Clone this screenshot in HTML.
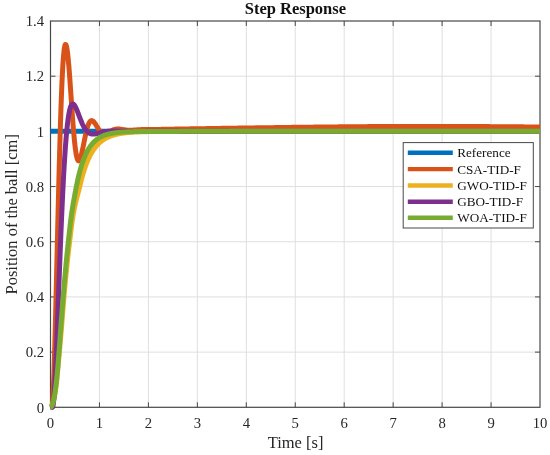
<!DOCTYPE html>
<html><head><meta charset="utf-8"><title>Step Response</title>
<style>html,body{margin:0;padding:0;background:#fff;overflow:hidden}svg{display:block}</style></head>
<body>
<svg width="550" height="455" viewBox="0 0 550 455">
<rect width="550" height="455" fill="#fff"/>
<path d="M99.45,21.0 V407.3 M148.40,21.0 V407.3 M197.35,21.0 V407.3 M246.30,21.0 V407.3 M295.25,21.0 V407.3 M344.20,21.0 V407.3 M393.15,21.0 V407.3 M442.10,21.0 V407.3 M491.05,21.0 V407.3 M50.5,352.11 H540.0 M50.5,296.93 H540.0 M50.5,241.74 H540.0 M50.5,186.56 H540.0 M50.5,131.37 H540.0 M50.5,76.19 H540.0" stroke="#dfdfdf" stroke-width="1" fill="none"/>
<path d="M99.45,407.3 v-5 M99.45,21.0 v5 M148.40,407.3 v-5 M148.40,21.0 v5 M197.35,407.3 v-5 M197.35,21.0 v5 M246.30,407.3 v-5 M246.30,21.0 v5 M295.25,407.3 v-5 M295.25,21.0 v5 M344.20,407.3 v-5 M344.20,21.0 v5 M393.15,407.3 v-5 M393.15,21.0 v5 M442.10,407.3 v-5 M442.10,21.0 v5 M491.05,407.3 v-5 M491.05,21.0 v5 M50.5,352.11 h5 M540.0,352.11 h-5 M50.5,296.93 h5 M540.0,296.93 h-5 M50.5,241.74 h5 M540.0,241.74 h-5 M50.5,186.56 h5 M540.0,186.56 h-5 M50.5,131.37 h5 M540.0,131.37 h-5 M50.5,76.19 h5 M540.0,76.19 h-5" stroke="#484848" stroke-width="1" fill="none"/>
<rect x="50.5" y="21.0" width="489.5" height="386.3" fill="none" stroke="#484848" stroke-width="1.2"/>
<defs><clipPath id="c"><rect x="47.5" y="21.0" width="493.0" height="390.3"/></clipPath></defs>
<g clip-path="url(#c)" fill="none" stroke-linejoin="round" stroke-linecap="butt">
<path d="M50.5,131.37 H540.0" stroke="#0072BD" stroke-width="5"/>
<path d="M50.50,407.30 L50.74,407.29 L50.99,407.29 L51.23,407.28 L51.48,407.28 L51.72,407.27 L51.97,406.82 L52.21,405.39 L52.46,403.04 L52.70,399.82 L52.95,395.78 L53.19,391.00 L53.44,385.52 L53.68,379.39 L53.93,372.67 L54.17,365.41 L54.42,357.67 L54.66,349.48 L54.91,340.90 L55.15,331.97 L55.40,322.73 L55.64,313.24 L55.88,303.52 L56.13,293.62 L56.37,283.58 L56.62,273.43 L56.86,263.21 L57.11,252.95 L57.35,242.69 L57.60,232.45 L57.84,222.27 L58.09,212.17 L58.33,202.19 L58.58,192.35 L58.82,182.68 L59.07,173.19 L59.31,163.93 L59.56,154.90 L59.80,146.13 L60.05,137.64 L60.29,129.46 L60.53,121.59 L60.78,114.07 L61.02,106.89 L61.27,100.08 L61.51,93.65 L61.76,87.61 L62.00,81.97 L62.25,76.73 L62.49,71.90 L62.74,67.48 L62.98,63.47 L63.23,59.86 L63.47,56.66 L63.72,53.85 L63.96,51.44 L64.21,49.39 L64.45,47.72 L64.70,46.40 L64.94,45.41 L65.19,44.76 L65.43,44.43 L65.67,44.39 L65.92,44.65 L66.16,45.18 L66.41,45.98 L66.65,47.04 L66.90,48.34 L67.14,49.87 L67.39,51.63 L67.63,53.60 L67.88,55.78 L68.12,58.15 L68.37,60.70 L68.61,63.41 L68.86,66.28 L69.10,69.30 L69.35,72.44 L69.59,75.69 L69.84,79.04 L70.08,82.47 L70.32,85.96 L70.57,89.50 L70.81,93.07 L71.06,96.66 L71.30,100.24 L71.55,103.81 L71.79,107.35 L72.04,110.84 L72.28,114.28 L72.53,117.65 L72.77,120.94 L73.02,124.13 L73.26,127.23 L73.51,130.22 L73.75,133.08 L74.00,135.83 L74.24,138.45 L74.49,140.93 L74.73,143.27 L74.97,145.47 L75.22,147.52 L75.46,149.42 L75.71,151.18 L75.95,152.78 L76.20,154.24 L76.44,155.54 L76.69,156.70 L76.93,157.71 L77.18,158.57 L77.42,159.29 L77.67,159.87 L77.91,160.32 L78.16,160.63 L78.40,160.82 L78.65,160.88 L78.89,160.82 L79.14,160.65 L79.38,160.37 L79.63,159.98 L79.87,159.50 L80.11,158.93 L80.36,158.27 L80.60,157.53 L80.85,156.72 L81.09,155.84 L81.34,154.90 L81.58,153.91 L81.83,152.87 L82.07,151.78 L82.32,150.66 L82.56,149.50 L82.81,148.32 L83.05,147.12 L83.30,145.91 L83.54,144.68 L83.79,143.45 L84.03,142.23 L84.28,141.01 L84.52,139.79 L84.77,138.60 L85.01,137.42 L85.25,136.26 L85.50,135.13 L85.74,134.02 L85.99,132.95 L86.23,131.92 L86.48,130.92 L86.72,129.96 L86.97,129.04 L87.21,128.17 L87.46,127.34 L87.70,126.56 L87.95,125.82 L88.19,125.14 L88.44,124.50 L88.68,123.91 L88.93,123.37 L89.17,122.89 L89.42,122.45 L89.66,122.06 L89.90,121.72 L90.15,121.42 L90.39,121.18 L90.64,120.98 L90.88,120.83 L91.13,120.72 L91.37,120.65 L91.62,120.62 L91.86,120.63 L92.11,120.68 L92.35,120.77 L92.60,120.89 L92.84,121.04 L93.09,121.22 L93.33,121.43 L93.58,121.67 L93.82,121.93 L94.07,122.21 L94.31,122.52 L94.56,122.84 L94.80,123.18 L95.04,123.53 L95.29,123.89 L95.53,124.27 L95.78,124.65 L96.02,125.04 L96.27,125.44 L96.51,125.84 L96.76,126.23 L97.00,126.63 L97.25,127.03 L97.49,127.43 L97.74,127.81 L97.98,128.20 L98.23,128.57 L98.47,128.94 L98.72,129.30 L98.96,129.65 L99.21,129.98 L99.45,130.31 L99.69,130.62 L99.94,130.92 L100.18,131.20 L100.43,131.47 L100.67,131.72 L100.92,131.96 L101.16,132.18 L101.41,132.38 L101.65,132.57 L101.90,132.74 L102.14,132.90 L102.39,133.04 L102.63,133.16 L102.88,133.27 L103.12,133.36 L103.37,133.44 L103.61,133.50 L103.86,133.54 L104.10,133.57 L104.34,133.59 L104.59,133.59 L104.83,133.58 L105.08,133.56 L105.32,133.53 L105.57,133.48 L105.81,133.43 L106.06,133.36 L106.30,133.28 L106.55,133.20 L106.79,133.11 L107.04,133.01 L107.28,132.90 L107.53,132.79 L107.77,132.68 L108.02,132.55 L108.26,132.43 L108.51,132.30 L108.75,132.17 L109.00,132.03 L109.24,131.89 L109.48,131.76 L109.73,131.62 L109.97,131.48 L110.22,131.35 L110.46,131.21 L110.71,131.08 L110.95,130.94 L111.20,130.81 L111.44,130.69 L111.69,130.56 L111.93,130.44 L112.18,130.32 L112.42,130.21 L112.67,130.10 L112.91,130.00 L113.16,129.90 L113.40,129.81 L113.65,129.72 L113.89,129.63 L114.14,129.55 L114.38,129.48 L114.62,129.41 L114.87,129.35 L115.11,129.29 L115.36,129.24 L115.60,129.20 L115.85,129.15 L116.09,129.12 L116.34,129.09 L116.58,129.06 L116.83,129.04 L117.07,129.03 L117.32,129.01 L117.56,129.01 L117.81,129.01 L118.05,129.01 L118.30,129.01 L118.54,129.02 L118.79,129.03 L119.03,129.05 L119.27,129.07 L119.52,129.09 L119.76,129.12 L120.01,129.14 L120.25,129.17 L120.50,129.20 L120.74,129.24 L120.99,129.27 L121.23,129.31 L121.48,129.35 L121.72,129.38 L121.97,129.42 L122.21,129.46 L122.46,129.50 L122.70,129.54 L122.95,129.58 L123.19,129.62 L123.44,129.66 L123.68,129.70 L123.92,129.74 L124.17,129.78 L124.41,129.81 L124.66,129.85 L124.90,129.88 L125.15,129.92 L125.39,129.95 L125.64,129.98 L125.88,130.01 L126.13,130.03 L126.37,130.06 L126.62,130.08 L126.86,130.11 L127.11,130.13 L127.35,130.15 L127.60,130.16 L127.84,130.18 L128.09,130.19 L128.33,130.20 L128.58,130.21 L128.82,130.22 L129.06,130.23 L129.31,130.23 L129.55,130.24 L129.80,130.24 L130.04,130.24 L130.29,130.24 L130.53,130.23 L130.78,130.23 L131.02,130.22 L131.27,130.21 L131.51,130.21 L131.76,130.20 L132.00,130.19 L132.25,130.17 L132.49,130.16 L132.74,130.15 L132.98,130.13 L133.23,130.12 L133.47,130.10 L133.72,130.09 L133.96,130.07 L134.20,130.05 L134.45,130.03 L134.69,130.02 L134.94,130.00 L135.18,129.98 L135.43,129.96 L135.67,129.94 L135.92,129.92 L136.16,129.91 L136.41,129.89 L136.65,129.87 L136.90,129.85 L137.14,129.83 L137.39,129.82 L137.63,129.80 L137.88,129.78 L138.12,129.77 L138.37,129.75 L138.61,129.73 L138.85,129.72 L139.10,129.70 L139.34,129.69 L139.59,129.68 L139.83,129.66 L140.08,129.65 L140.32,129.64 L140.57,129.63 L140.81,129.62 L141.06,129.61 L141.30,129.60 L141.55,129.59 L141.79,129.58 L142.04,129.58 L142.28,129.57 L142.53,129.56 L142.77,129.56 L143.02,129.55 L143.26,129.55 L143.50,129.54 L143.75,129.54 L143.99,129.53 L144.24,129.53 L144.48,129.53 L144.73,129.53 L144.97,129.52 L145.22,129.52 L145.46,129.52 L145.71,129.52 L145.95,129.52 L146.20,129.52 L146.44,129.52 L146.69,129.52 L146.93,129.52 L147.18,129.52 L147.42,129.52 L147.67,129.52 L147.91,129.52 L148.16,129.52 L148.40,129.52 L148.64,129.52 L148.89,129.52 L149.13,129.52 L149.38,129.53 L149.62,129.53 L149.87,129.53 L150.11,129.53 L150.36,129.53 L150.60,129.53 L150.85,129.53 L151.09,129.53 L151.34,129.53 L151.58,129.53 L151.83,129.53 L152.07,129.52 L152.32,129.52 L152.56,129.52 L152.81,129.52 L153.05,129.52 L153.30,129.52 L153.54,129.52 L153.78,129.51 L154.03,129.51 L154.27,129.51 L154.52,129.51 L154.76,129.50 L155.01,129.50 L155.25,129.50 L155.50,129.49 L155.74,129.49 L155.99,129.49 L156.23,129.48 L156.48,129.48 L156.72,129.48 L156.97,129.47 L157.21,129.47 L157.46,129.46 L157.70,129.46 L157.95,129.45 L158.19,129.45 L158.43,129.44 L158.68,129.44 L158.92,129.43 L159.17,129.43 L159.41,129.42 L159.66,129.41 L159.90,129.41 L160.15,129.40 L160.39,129.40 L160.64,129.39 L160.88,129.39 L161.13,129.38 L161.37,129.37 L161.62,129.37 L161.86,129.36 L162.11,129.36 L162.35,129.35 L162.60,129.35 L162.84,129.34 L163.09,129.33 L163.33,129.33 L163.57,129.32 L163.82,129.32 L164.06,129.31 L164.31,129.31 L164.55,129.30 L164.80,129.30 L165.04,129.29 L165.29,129.28 L165.53,129.28 L165.78,129.27 L166.02,129.27 L166.27,129.26 L166.51,129.26 L166.76,129.25 L167.00,129.25 L167.25,129.24 L167.49,129.24 L167.74,129.24 L167.98,129.23 L168.22,129.23 L168.47,129.22 L168.71,129.22 L168.96,129.21 L169.20,129.21 L169.45,129.20 L169.69,129.20 L169.94,129.20 L170.18,129.19 L170.43,129.19 L170.67,129.18 L170.92,129.18 L171.16,129.18 L171.41,129.17 L171.65,129.17 L171.90,129.16 L172.14,129.16 L172.39,129.16 L172.63,129.15 L172.88,129.15 L173.12,129.15 L173.36,129.14 L173.61,129.14 L173.85,129.13 L174.10,129.13 L174.34,129.13 L174.59,129.12 L174.83,129.12 L175.08,129.12 L175.32,129.11 L175.57,129.11 L175.81,129.11 L176.06,129.10 L176.30,129.10 L176.55,129.09 L176.79,129.09 L177.04,129.09 L177.28,129.08 L177.53,129.08 L177.77,129.08 L178.01,129.07 L178.26,129.07 L178.50,129.06 L178.75,129.06 L178.99,129.06 L179.24,129.05 L179.48,129.05 L179.73,129.04 L179.97,129.04 L180.22,129.04 L180.46,129.03 L180.71,129.03 L180.95,129.02 L181.20,129.02 L181.44,129.02 L181.69,129.01 L181.93,129.01 L182.18,129.00 L182.42,129.00 L182.67,129.00 L182.91,128.99 L183.15,128.99 L183.40,128.98 L183.64,128.98 L183.89,128.98 L184.13,128.97 L184.38,128.97 L184.62,128.96 L184.87,128.96 L185.11,128.95 L185.36,128.95 L185.60,128.95 L185.85,128.94 L186.09,128.94 L186.34,128.93 L186.58,128.93 L186.83,128.92 L187.07,128.92 L187.32,128.92 L187.56,128.91 L187.80,128.91 L188.05,128.90 L188.29,128.90 L188.54,128.89 L188.78,128.89 L189.03,128.89 L189.27,128.88 L189.52,128.88 L189.76,128.87 L190.01,128.87 L190.25,128.87 L190.50,128.86 L190.74,128.86 L190.99,128.85 L191.23,128.85 L191.48,128.84 L191.72,128.84 L191.97,128.84 L192.21,128.83 L192.45,128.83 L192.70,128.82 L192.94,128.82 L193.19,128.82 L193.43,128.81 L193.68,128.81 L193.92,128.80 L194.17,128.80 L194.41,128.80 L194.66,128.79 L194.90,128.79 L195.15,128.78 L195.39,128.78 L195.64,128.78 L195.88,128.77 L196.13,128.77 L196.37,128.76 L196.62,128.76 L196.86,128.76 L197.11,128.75 L197.35,128.75 L199.80,128.71 L202.25,128.67 L204.69,128.63 L207.14,128.60 L209.59,128.56 L212.03,128.52 L214.48,128.48 L216.93,128.44 L219.38,128.40 L221.82,128.37 L224.27,128.33 L226.72,128.29 L229.17,128.26 L231.62,128.22 L234.06,128.18 L236.51,128.15 L238.96,128.11 L241.41,128.08 L243.85,128.04 L246.30,128.01 L248.75,127.97 L251.19,127.94 L253.64,127.90 L256.09,127.87 L258.54,127.83 L260.99,127.80 L263.43,127.76 L265.88,127.73 L268.33,127.69 L270.77,127.66 L273.22,127.63 L275.67,127.59 L278.12,127.56 L280.56,127.53 L283.01,127.50 L285.46,127.46 L287.91,127.43 L290.36,127.40 L292.80,127.37 L295.25,127.34 L297.70,127.31 L300.14,127.28 L302.59,127.26 L305.04,127.23 L307.49,127.20 L309.94,127.17 L312.38,127.14 L314.83,127.11 L317.28,127.09 L319.73,127.06 L322.17,127.03 L324.62,127.01 L327.07,126.98 L329.51,126.95 L331.96,126.93 L334.41,126.91 L336.86,126.88 L339.31,126.86 L341.75,126.84 L344.20,126.82 L346.65,126.80 L349.09,126.78 L351.54,126.76 L353.99,126.74 L356.44,126.72 L358.89,126.70 L361.33,126.68 L363.78,126.66 L366.23,126.64 L368.68,126.62 L371.12,126.60 L373.57,126.58 L376.02,126.57 L378.47,126.55 L380.91,126.54 L383.36,126.53 L385.81,126.51 L388.25,126.50 L390.70,126.49 L393.15,126.49 L395.60,126.48 L398.05,126.47 L400.49,126.47 L402.94,126.46 L405.39,126.46 L407.83,126.45 L410.28,126.44 L412.73,126.44 L415.18,126.43 L417.62,126.43 L420.07,126.43 L422.52,126.42 L424.97,126.42 L427.42,126.41 L429.86,126.41 L432.31,126.41 L434.76,126.41 L437.21,126.41 L439.65,126.40 L442.10,126.40 L444.55,126.41 L447.00,126.41 L449.44,126.41 L451.89,126.42 L454.34,126.43 L456.79,126.43 L459.23,126.44 L461.68,126.46 L464.13,126.47 L466.57,126.48 L469.02,126.49 L471.47,126.51 L473.92,126.52 L476.36,126.54 L478.81,126.55 L481.26,126.57 L483.71,126.58 L486.16,126.60 L488.60,126.61 L491.05,126.63 L493.50,126.64 L495.95,126.65 L498.39,126.67 L500.84,126.69 L503.29,126.70 L505.74,126.72 L508.18,126.74 L510.63,126.76 L513.08,126.78 L515.52,126.80 L517.97,126.81 L520.42,126.84 L522.87,126.86 L525.31,126.88 L527.76,126.90 L530.21,126.92 L532.66,126.94 L535.11,126.97 L537.55,126.99 L540.00,127.01" stroke="#D95319" stroke-width="5"/>
<path d="M50.50,407.30 L50.74,407.24 L50.99,407.07 L51.23,406.81 L51.48,406.47 L51.72,406.07 L51.97,405.62 L52.21,405.15 L52.46,404.65 L52.70,404.07 L52.95,403.32 L53.19,402.43 L53.44,401.42 L53.68,400.32 L53.93,399.16 L54.17,397.94 L54.42,396.70 L54.66,395.40 L54.91,393.98 L55.15,392.45 L55.40,390.82 L55.64,389.10 L55.88,387.30 L56.13,385.41 L56.37,383.46 L56.62,381.39 L56.86,379.17 L57.11,376.81 L57.35,374.33 L57.60,371.75 L57.84,369.10 L58.09,366.39 L58.33,363.64 L58.58,360.87 L58.82,358.10 L59.07,355.36 L59.31,352.65 L59.56,349.98 L59.80,347.29 L60.05,344.58 L60.29,341.86 L60.53,339.10 L60.78,336.31 L61.02,333.48 L61.27,330.62 L61.51,327.69 L61.76,324.67 L62.00,321.58 L62.25,318.44 L62.49,315.28 L62.74,312.11 L62.98,308.95 L63.23,305.84 L63.47,302.78 L63.72,299.80 L63.96,296.93 L64.21,294.13 L64.45,291.38 L64.70,288.67 L64.94,285.99 L65.19,283.36 L65.43,280.76 L65.67,278.21 L65.92,275.69 L66.16,273.22 L66.41,270.78 L66.65,268.38 L66.90,266.01 L67.14,263.66 L67.39,261.34 L67.63,259.05 L67.88,256.79 L68.12,254.56 L68.37,252.35 L68.61,250.18 L68.86,248.04 L69.10,245.93 L69.35,243.86 L69.59,241.82 L69.84,239.81 L70.08,237.82 L70.32,235.82 L70.57,233.83 L70.81,231.85 L71.06,229.88 L71.30,227.94 L71.55,226.03 L71.79,224.16 L72.04,222.33 L72.28,220.56 L72.53,218.85 L72.77,217.21 L73.02,215.64 L73.26,214.16 L73.51,212.77 L73.75,211.45 L74.00,210.17 L74.24,208.94 L74.49,207.74 L74.73,206.58 L74.97,205.45 L75.22,204.36 L75.46,203.29 L75.71,202.25 L75.95,201.23 L76.20,200.23 L76.44,199.25 L76.69,198.28 L76.93,197.33 L77.18,196.39 L77.42,195.46 L77.67,194.53 L77.91,193.60 L78.16,192.67 L78.40,191.74 L78.65,190.81 L78.89,189.86 L79.14,188.91 L79.38,187.94 L79.63,186.96 L79.87,185.96 L80.11,184.95 L80.36,183.94 L80.60,182.93 L80.85,181.92 L81.09,180.93 L81.34,179.95 L81.58,178.99 L81.83,178.05 L82.07,177.14 L82.32,176.25 L82.56,175.39 L82.81,174.54 L83.05,173.70 L83.30,172.89 L83.54,172.08 L83.79,171.30 L84.03,170.52 L84.28,169.77 L84.52,169.03 L84.77,168.30 L85.01,167.59 L85.25,166.89 L85.50,166.20 L85.74,165.53 L85.99,164.87 L86.23,164.22 L86.48,163.59 L86.72,162.96 L86.97,162.36 L87.21,161.76 L87.46,161.17 L87.70,160.60 L87.95,160.03 L88.19,159.48 L88.44,158.94 L88.68,158.40 L88.93,157.88 L89.17,157.37 L89.42,156.87 L89.66,156.38 L89.90,155.89 L90.15,155.42 L90.39,154.96 L90.64,154.50 L90.88,154.05 L91.13,153.61 L91.37,153.18 L91.62,152.76 L91.86,152.35 L92.11,151.95 L92.35,151.55 L92.60,151.16 L92.84,150.78 L93.09,150.40 L93.33,150.03 L93.58,149.67 L93.82,149.32 L94.07,148.97 L94.31,148.63 L94.56,148.30 L94.80,147.97 L95.04,147.65 L95.29,147.34 L95.53,147.03 L95.78,146.73 L96.02,146.43 L96.27,146.14 L96.51,145.85 L96.76,145.57 L97.00,145.30 L97.25,145.03 L97.49,144.77 L97.74,144.51 L97.98,144.26 L98.23,144.01 L98.47,143.76 L98.72,143.52 L98.96,143.29 L99.21,143.06 L99.45,142.83 L99.69,142.61 L99.94,142.40 L100.18,142.18 L100.43,141.97 L100.67,141.77 L100.92,141.57 L101.16,141.37 L101.41,141.18 L101.65,140.99 L101.90,140.80 L102.14,140.62 L102.39,140.44 L102.63,140.27 L102.88,140.09 L103.12,139.93 L103.37,139.76 L103.61,139.60 L103.86,139.44 L104.10,139.28 L104.34,139.13 L104.59,138.98 L104.83,138.84 L105.08,138.69 L105.32,138.55 L105.57,138.41 L105.81,138.27 L106.06,138.14 L106.30,138.01 L106.55,137.88 L106.79,137.76 L107.04,137.63 L107.28,137.51 L107.53,137.39 L107.77,137.28 L108.02,137.16 L108.26,137.05 L108.51,136.94 L108.75,136.83 L109.00,136.73 L109.24,136.63 L109.48,136.52 L109.73,136.42 L109.97,136.33 L110.22,136.23 L110.46,136.14 L110.71,136.05 L110.95,135.95 L111.20,135.87 L111.44,135.78 L111.69,135.69 L111.93,135.61 L112.18,135.53 L112.42,135.45 L112.67,135.37 L112.91,135.29 L113.16,135.22 L113.40,135.14 L113.65,135.07 L113.89,135.00 L114.14,134.93 L114.38,134.86 L114.62,134.79 L114.87,134.73 L115.11,134.66 L115.36,134.60 L115.60,134.54 L115.85,134.47 L116.09,134.41 L116.34,134.36 L116.58,134.30 L116.83,134.24 L117.07,134.19 L117.32,134.13 L117.56,134.08 L117.81,134.03 L118.05,133.98 L118.30,133.92 L118.54,133.88 L118.79,133.83 L119.03,133.78 L119.27,133.73 L119.52,133.69 L119.76,133.64 L120.01,133.60 L120.25,133.56 L120.50,133.51 L120.74,133.47 L120.99,133.43 L121.23,133.39 L121.48,133.35 L121.72,133.32 L121.97,133.28 L122.21,133.24 L122.46,133.20 L122.70,133.17 L122.95,133.13 L123.19,133.10 L123.44,133.07 L123.68,133.03 L123.92,133.00 L124.17,132.97 L124.41,132.94 L124.66,132.91 L124.90,132.88 L125.15,132.85 L125.39,132.82 L125.64,132.79 L125.88,132.77 L126.13,132.74 L126.37,132.71 L126.62,132.69 L126.86,132.66 L127.11,132.64 L127.35,132.61 L127.60,132.59 L127.84,132.57 L128.09,132.54 L128.33,132.52 L128.58,132.50 L128.82,132.48 L129.06,132.45 L129.31,132.43 L129.55,132.41 L129.80,132.39 L130.04,132.37 L130.29,132.35 L130.53,132.33 L130.78,132.32 L131.02,132.30 L131.27,132.28 L131.51,132.26 L131.76,132.25 L132.00,132.23 L132.25,132.21 L132.49,132.20 L132.74,132.18 L132.98,132.16 L133.23,132.15 L133.47,132.13 L133.72,132.12 L133.96,132.10 L134.20,132.09 L134.45,132.08 L134.69,132.06 L134.94,132.05 L135.18,132.04 L135.43,132.02 L135.67,132.01 L135.92,132.00 L136.16,131.99 L136.41,131.97 L136.65,131.96 L136.90,131.95 L137.14,131.94 L137.39,131.93 L137.63,131.92 L137.88,131.91 L138.12,131.90 L138.37,131.89 L138.61,131.88 L138.85,131.87 L139.10,131.86 L139.34,131.85 L139.59,131.84 L139.83,131.83 L140.08,131.82 L140.32,131.81 L140.57,131.80 L140.81,131.80 L141.06,131.79 L141.30,131.78 L141.55,131.77 L141.79,131.76 L142.04,131.76 L142.28,131.75 L142.53,131.74 L142.77,131.73 L143.02,131.73 L143.26,131.72 L143.50,131.71 L143.75,131.71 L143.99,131.70 L144.24,131.69 L144.48,131.69 L144.73,131.68 L144.97,131.68 L145.22,131.67 L145.46,131.66 L145.71,131.66 L145.95,131.65 L146.20,131.65 L146.44,131.64 L146.69,131.64 L146.93,131.63 L147.18,131.63 L147.42,131.62 L147.67,131.62 L147.91,131.61 L148.16,131.61 L148.40,131.60 L148.64,131.60 L148.89,131.59 L149.13,131.59 L149.38,131.59 L149.62,131.58 L149.87,131.58 L150.11,131.57 L150.36,131.57 L150.60,131.57 L150.85,131.56 L151.09,131.56 L151.34,131.56 L151.58,131.55 L151.83,131.55 L152.07,131.54 L152.32,131.54 L152.56,131.54 L152.81,131.53 L153.05,131.53 L153.30,131.53 L153.54,131.53 L153.78,131.52 L154.03,131.52 L154.27,131.52 L154.52,131.51 L154.76,131.51 L155.01,131.51 L155.25,131.51 L155.50,131.50 L155.74,131.50 L155.99,131.50 L156.23,131.50 L156.48,131.49 L156.72,131.49 L156.97,131.49 L157.21,131.49 L157.46,131.48 L157.70,131.48 L157.95,131.48 L158.19,131.48 L158.43,131.48 L158.68,131.47 L158.92,131.47 L159.17,131.47 L159.41,131.47 L159.66,131.47 L159.90,131.46 L160.15,131.46 L160.39,131.46 L160.64,131.46 L160.88,131.46 L161.13,131.46 L161.37,131.45 L161.62,131.45 L161.86,131.45 L162.11,131.45 L162.35,131.45 L162.60,131.45 L162.84,131.44 L163.09,131.44 L163.33,131.44 L163.57,131.44 L163.82,131.44 L164.06,131.44 L164.31,131.44 L164.55,131.44 L164.80,131.43 L165.04,131.43 L165.29,131.43 L165.53,131.43 L165.78,131.43 L166.02,131.43 L166.27,131.43 L166.51,131.43 L166.76,131.43 L167.00,131.42 L167.25,131.42 L167.49,131.42 L167.74,131.42 L167.98,131.42 L168.22,131.42 L168.47,131.42 L168.71,131.42 L168.96,131.42 L169.20,131.42 L169.45,131.41 L169.69,131.41 L169.94,131.41 L170.18,131.41 L170.43,131.41 L170.67,131.41 L170.92,131.41 L171.16,131.41 L171.41,131.41 L171.65,131.41 L171.90,131.41 L172.14,131.41 L172.39,131.41 L172.63,131.41 L172.88,131.40 L173.12,131.40 L173.36,131.40 L173.61,131.40 L173.85,131.40 L174.10,131.40 L174.34,131.40 L174.59,131.40 L174.83,131.40 L175.08,131.40 L175.32,131.40 L175.57,131.40 L175.81,131.40 L176.06,131.40 L176.30,131.40 L176.55,131.40 L176.79,131.40 L177.04,131.40 L177.28,131.39 L177.53,131.39 L177.77,131.39 L178.01,131.39 L178.26,131.39 L178.50,131.39 L178.75,131.39 L178.99,131.39 L179.24,131.39 L179.48,131.39 L179.73,131.39 L179.97,131.39 L180.22,131.39 L180.46,131.39 L180.71,131.39 L180.95,131.39 L181.20,131.39 L181.44,131.39 L181.69,131.39 L181.93,131.39 L182.18,131.39 L182.42,131.39 L182.67,131.39 L182.91,131.39 L183.15,131.39 L183.40,131.39 L183.64,131.39 L183.89,131.39 L184.13,131.38 L184.38,131.38 L184.62,131.38 L184.87,131.38 L185.11,131.38 L185.36,131.38 L185.60,131.38 L185.85,131.38 L186.09,131.38 L186.34,131.38 L186.58,131.38 L186.83,131.38 L187.07,131.38 L187.32,131.38 L187.56,131.38 L187.80,131.38 L188.05,131.38 L188.29,131.38 L188.54,131.38 L188.78,131.38 L189.03,131.38 L189.27,131.38 L189.52,131.38 L189.76,131.38 L190.01,131.38 L190.25,131.38 L190.50,131.38 L190.74,131.38 L190.99,131.38 L191.23,131.38 L191.48,131.38 L191.72,131.38 L191.97,131.38 L192.21,131.38 L192.45,131.38 L192.70,131.38 L192.94,131.38 L193.19,131.38 L193.43,131.38 L193.68,131.38 L193.92,131.38 L194.17,131.38 L194.41,131.38 L194.66,131.38 L194.90,131.38 L195.15,131.38 L195.39,131.38 L195.64,131.38 L195.88,131.38 L196.13,131.38 L196.37,131.38 L196.62,131.38 L196.86,131.38 L197.11,131.38 L197.35,131.38 L199.80,131.38 L202.25,131.38 L204.69,131.38 L207.14,131.38 L209.59,131.38 L212.03,131.38 L214.48,131.38 L216.93,131.38 L219.38,131.38 L221.82,131.38 L224.27,131.38 L226.72,131.38 L229.17,131.38 L231.62,131.37 L234.06,131.37 L236.51,131.37 L238.96,131.37 L241.41,131.37 L243.85,131.37 L246.30,131.37 L248.75,131.37 L251.19,131.37 L253.64,131.37 L256.09,131.37 L258.54,131.37 L260.99,131.37 L263.43,131.37 L265.88,131.37 L268.33,131.37 L270.77,131.37 L273.22,131.37 L275.67,131.37 L278.12,131.37 L280.56,131.37 L283.01,131.37 L285.46,131.37 L287.91,131.37 L290.36,131.37 L292.80,131.37 L295.25,131.37 L297.70,131.37 L300.14,131.37 L302.59,131.37 L305.04,131.37 L307.49,131.37 L309.94,131.37 L312.38,131.37 L314.83,131.37 L317.28,131.37 L319.73,131.37 L322.17,131.37 L324.62,131.37 L327.07,131.37 L329.51,131.37 L331.96,131.37 L334.41,131.37 L336.86,131.37 L339.31,131.37 L341.75,131.37 L344.20,131.37 L346.65,131.37 L349.09,131.37 L351.54,131.37 L353.99,131.37 L356.44,131.37 L358.89,131.37 L361.33,131.37 L363.78,131.37 L366.23,131.37 L368.68,131.37 L371.12,131.37 L373.57,131.37 L376.02,131.37 L378.47,131.37 L380.91,131.37 L383.36,131.37 L385.81,131.37 L388.25,131.37 L390.70,131.37 L393.15,131.37 L395.60,131.37 L398.05,131.37 L400.49,131.37 L402.94,131.37 L405.39,131.37 L407.83,131.37 L410.28,131.37 L412.73,131.37 L415.18,131.37 L417.62,131.37 L420.07,131.37 L422.52,131.37 L424.97,131.37 L427.42,131.37 L429.86,131.37 L432.31,131.37 L434.76,131.37 L437.21,131.37 L439.65,131.37 L442.10,131.37 L444.55,131.37 L447.00,131.37 L449.44,131.37 L451.89,131.37 L454.34,131.37 L456.79,131.37 L459.23,131.37 L461.68,131.37 L464.13,131.37 L466.57,131.37 L469.02,131.37 L471.47,131.37 L473.92,131.37 L476.36,131.37 L478.81,131.37 L481.26,131.37 L483.71,131.37 L486.16,131.37 L488.60,131.37 L491.05,131.37 L493.50,131.37 L495.95,131.37 L498.39,131.37 L500.84,131.37 L503.29,131.37 L505.74,131.37 L508.18,131.37 L510.63,131.37 L513.08,131.37 L515.52,131.37 L517.97,131.37 L520.42,131.37 L522.87,131.37 L525.31,131.37 L527.76,131.37 L530.21,131.37 L532.66,131.37 L535.11,131.37 L537.55,131.37 L540.00,131.37" stroke="#EDB120" stroke-width="5"/>
<path d="M50.50,407.30 L50.74,407.30 L50.99,407.30 L51.23,407.30 L51.48,407.30 L51.72,407.30 L51.97,407.30 L52.21,407.30 L52.46,407.30 L52.70,407.00 L52.95,406.13 L53.19,404.71 L53.44,402.78 L53.68,400.38 L53.93,397.52 L54.17,394.25 L54.42,390.59 L54.66,386.58 L54.91,382.23 L55.15,377.58 L55.40,372.65 L55.64,367.48 L55.88,362.07 L56.13,356.47 L56.37,350.68 L56.62,344.73 L56.86,338.65 L57.11,332.46 L57.35,326.17 L57.60,319.80 L57.84,313.37 L58.09,306.90 L58.33,300.40 L58.58,293.89 L58.82,287.38 L59.07,280.90 L59.31,274.44 L59.56,268.02 L59.80,261.66 L60.05,255.37 L60.29,249.15 L60.53,243.01 L60.78,236.96 L61.02,231.02 L61.27,225.19 L61.51,219.46 L61.76,213.86 L62.00,208.39 L62.25,203.05 L62.49,197.84 L62.74,192.77 L62.98,187.85 L63.23,183.07 L63.47,178.44 L63.72,173.95 L63.96,169.62 L64.21,165.45 L64.45,161.42 L64.70,157.55 L64.94,153.83 L65.19,150.27 L65.43,146.86 L65.67,143.60 L65.92,140.49 L66.16,137.52 L66.41,134.71 L66.65,132.04 L66.90,129.52 L67.14,127.13 L67.39,124.89 L67.63,122.77 L67.88,120.80 L68.12,118.95 L68.37,117.23 L68.61,115.63 L68.86,114.15 L69.10,112.79 L69.35,111.55 L69.59,110.41 L69.84,109.38 L70.08,108.45 L70.32,107.62 L70.57,106.89 L70.81,106.25 L71.06,105.70 L71.30,105.24 L71.55,104.85 L71.79,104.55 L72.04,104.31 L72.28,104.15 L72.53,104.06 L72.77,104.03 L73.02,104.06 L73.26,104.14 L73.51,104.28 L73.75,104.47 L74.00,104.71 L74.24,104.99 L74.49,105.32 L74.73,105.68 L74.97,106.08 L75.22,106.51 L75.46,106.97 L75.71,107.46 L75.95,107.97 L76.20,108.51 L76.44,109.06 L76.69,109.64 L76.93,110.23 L77.18,110.83 L77.42,111.44 L77.67,112.07 L77.91,112.70 L78.16,113.33 L78.40,113.98 L78.65,114.62 L78.89,115.26 L79.14,115.91 L79.38,116.55 L79.63,117.19 L79.87,117.83 L80.11,118.46 L80.36,119.08 L80.60,119.70 L80.85,120.31 L81.09,120.91 L81.34,121.50 L81.58,122.07 L81.83,122.64 L82.07,123.20 L82.32,123.74 L82.56,124.27 L82.81,124.78 L83.05,125.29 L83.30,125.77 L83.54,126.25 L83.79,126.71 L84.03,127.15 L84.28,127.58 L84.52,127.99 L84.77,128.39 L85.01,128.78 L85.25,129.15 L85.50,129.50 L85.74,129.84 L85.99,130.16 L86.23,130.47 L86.48,130.76 L86.72,131.04 L86.97,131.30 L87.21,131.55 L87.46,131.79 L87.70,132.01 L87.95,132.22 L88.19,132.42 L88.44,132.60 L88.68,132.77 L88.93,132.93 L89.17,133.08 L89.42,133.21 L89.66,133.34 L89.90,133.45 L90.15,133.55 L90.39,133.64 L90.64,133.72 L90.88,133.80 L91.13,133.86 L91.37,133.92 L91.62,133.96 L91.86,134.00 L92.11,134.03 L92.35,134.05 L92.60,134.07 L92.84,134.08 L93.09,134.08 L93.33,134.08 L93.58,134.07 L93.82,134.06 L94.07,134.04 L94.31,134.01 L94.56,133.99 L94.80,133.95 L95.04,133.92 L95.29,133.88 L95.53,133.84 L95.78,133.79 L96.02,133.74 L96.27,133.69 L96.51,133.64 L96.76,133.58 L97.00,133.53 L97.25,133.47 L97.49,133.41 L97.74,133.35 L97.98,133.28 L98.23,133.22 L98.47,133.16 L98.72,133.10 L98.96,133.03 L99.21,132.97 L99.45,132.90 L99.69,132.84 L99.94,132.78 L100.18,132.71 L100.43,132.65 L100.67,132.59 L100.92,132.53 L101.16,132.47 L101.41,132.41 L101.65,132.35 L101.90,132.29 L102.14,132.24 L102.39,132.18 L102.63,132.13 L102.88,132.08 L103.12,132.02 L103.37,131.97 L103.61,131.93 L103.86,131.88 L104.10,131.83 L104.34,131.79 L104.59,131.75 L104.83,131.71 L105.08,131.67 L105.32,131.63 L105.57,131.59 L105.81,131.56 L106.06,131.52 L106.30,131.49 L106.55,131.46 L106.79,131.43 L107.04,131.40 L107.28,131.38 L107.53,131.35 L107.77,131.33 L108.02,131.31 L108.26,131.29 L108.51,131.27 L108.75,131.25 L109.00,131.23 L109.24,131.22 L109.48,131.20 L109.73,131.19 L109.97,131.18 L110.22,131.17 L110.46,131.16 L110.71,131.15 L110.95,131.14 L111.20,131.13 L111.44,131.12 L111.69,131.12 L111.93,131.11 L112.18,131.11 L112.42,131.11 L112.67,131.11 L112.91,131.10 L113.16,131.10 L113.40,131.10 L113.65,131.10 L113.89,131.10 L114.14,131.11 L114.38,131.11 L114.62,131.11 L114.87,131.11 L115.11,131.12 L115.36,131.12 L115.60,131.12 L115.85,131.13 L116.09,131.13 L116.34,131.14 L116.58,131.14 L116.83,131.15 L117.07,131.15 L117.32,131.16 L117.56,131.16 L117.81,131.17 L118.05,131.18 L118.30,131.18 L118.54,131.19 L118.79,131.19 L119.03,131.20 L119.27,131.21 L119.52,131.21 L119.76,131.22 L120.01,131.23 L120.25,131.23 L120.50,131.24 L120.74,131.24 L120.99,131.25 L121.23,131.26 L121.48,131.26 L121.72,131.27 L121.97,131.27 L122.21,131.28 L122.46,131.29 L122.70,131.29 L122.95,131.30 L123.19,131.30 L123.44,131.31 L123.68,131.31 L123.92,131.32 L124.17,131.32 L124.41,131.33 L124.66,131.33 L124.90,131.33 L125.15,131.34 L125.39,131.34 L125.64,131.35 L125.88,131.35 L126.13,131.35 L126.37,131.36 L126.62,131.36 L126.86,131.36 L127.11,131.37 L127.35,131.37 L127.60,131.37 L127.84,131.37 L128.09,131.38 L128.33,131.38 L128.58,131.38 L128.82,131.38 L129.06,131.38 L129.31,131.39 L129.55,131.39 L129.80,131.39 L130.04,131.39 L130.29,131.39 L130.53,131.39 L130.78,131.39 L131.02,131.39 L131.27,131.39 L131.51,131.40 L131.76,131.40 L132.00,131.40 L132.25,131.40 L132.49,131.40 L132.74,131.40 L132.98,131.40 L133.23,131.40 L133.47,131.40 L133.72,131.40 L133.96,131.40 L134.20,131.40 L134.45,131.40 L134.69,131.40 L134.94,131.40 L135.18,131.40 L135.43,131.40 L135.67,131.40 L135.92,131.40 L136.16,131.40 L136.41,131.40 L136.65,131.39 L136.90,131.39 L137.14,131.39 L137.39,131.39 L137.63,131.39 L137.88,131.39 L138.12,131.39 L138.37,131.39 L138.61,131.39 L138.85,131.39 L139.10,131.39 L139.34,131.39 L139.59,131.39 L139.83,131.39 L140.08,131.39 L140.32,131.39 L140.57,131.39 L140.81,131.38 L141.06,131.38 L141.30,131.38 L141.55,131.38 L141.79,131.38 L142.04,131.38 L142.28,131.38 L142.53,131.38 L142.77,131.38 L143.02,131.38 L143.26,131.38 L143.50,131.38 L143.75,131.38 L143.99,131.38 L144.24,131.38 L144.48,131.38 L144.73,131.38 L144.97,131.38 L145.22,131.38 L145.46,131.37 L145.71,131.37 L145.95,131.37 L146.20,131.37 L146.44,131.37 L146.69,131.37 L146.93,131.37 L147.18,131.37 L147.42,131.37 L147.67,131.37 L147.91,131.37 L148.16,131.37 L148.40,131.37 L148.64,131.37 L148.89,131.37 L149.13,131.37 L149.38,131.37 L149.62,131.37 L149.87,131.37 L150.11,131.37 L150.36,131.37 L150.60,131.37 L150.85,131.37 L151.09,131.37 L151.34,131.37 L151.58,131.37 L151.83,131.37 L152.07,131.37 L152.32,131.37 L152.56,131.37 L152.81,131.37 L153.05,131.37 L153.30,131.37 L153.54,131.37 L153.78,131.37 L154.03,131.37 L154.27,131.37 L154.52,131.37 L154.76,131.37 L155.01,131.37 L155.25,131.37 L155.50,131.37 L155.74,131.37 L155.99,131.37 L156.23,131.37 L156.48,131.37 L156.72,131.37 L156.97,131.37 L157.21,131.37 L157.46,131.37 L157.70,131.37 L157.95,131.37 L158.19,131.37 L158.43,131.37 L158.68,131.37 L158.92,131.37 L159.17,131.37 L159.41,131.37 L159.66,131.37 L159.90,131.37 L160.15,131.37 L160.39,131.37 L160.64,131.37 L160.88,131.37 L161.13,131.37 L161.37,131.37 L161.62,131.37 L161.86,131.37 L162.11,131.37 L162.35,131.37 L162.60,131.37 L162.84,131.37 L163.09,131.37 L163.33,131.37 L163.57,131.37 L163.82,131.37 L164.06,131.37 L164.31,131.37 L164.55,131.37 L164.80,131.37 L165.04,131.37 L165.29,131.37 L165.53,131.37 L165.78,131.37 L166.02,131.37 L166.27,131.37 L166.51,131.37 L166.76,131.37 L167.00,131.37 L167.25,131.37 L167.49,131.37 L167.74,131.37 L167.98,131.37 L168.22,131.37 L168.47,131.37 L168.71,131.37 L168.96,131.37 L169.20,131.37 L169.45,131.37 L169.69,131.37 L169.94,131.37 L170.18,131.37 L170.43,131.37 L170.67,131.37 L170.92,131.37 L171.16,131.37 L171.41,131.37 L171.65,131.37 L171.90,131.37 L172.14,131.37 L172.39,131.37 L172.63,131.37 L172.88,131.37 L173.12,131.37 L173.36,131.37 L173.61,131.37 L173.85,131.37 L174.10,131.37 L174.34,131.37 L174.59,131.37 L174.83,131.37 L175.08,131.37 L175.32,131.37 L175.57,131.37 L175.81,131.37 L176.06,131.37 L176.30,131.37 L176.55,131.37 L176.79,131.37 L177.04,131.37 L177.28,131.37 L177.53,131.37 L177.77,131.37 L178.01,131.37 L178.26,131.37 L178.50,131.37 L178.75,131.37 L178.99,131.37 L179.24,131.37 L179.48,131.37 L179.73,131.37 L179.97,131.37 L180.22,131.37 L180.46,131.37 L180.71,131.37 L180.95,131.37 L181.20,131.37 L181.44,131.37 L181.69,131.37 L181.93,131.37 L182.18,131.37 L182.42,131.37 L182.67,131.37 L182.91,131.37 L183.15,131.37 L183.40,131.37 L183.64,131.37 L183.89,131.37 L184.13,131.37 L184.38,131.37 L184.62,131.37 L184.87,131.37 L185.11,131.37 L185.36,131.37 L185.60,131.37 L185.85,131.37 L186.09,131.37 L186.34,131.37 L186.58,131.37 L186.83,131.37 L187.07,131.37 L187.32,131.37 L187.56,131.37 L187.80,131.37 L188.05,131.37 L188.29,131.37 L188.54,131.37 L188.78,131.37 L189.03,131.37 L189.27,131.37 L189.52,131.37 L189.76,131.37 L190.01,131.37 L190.25,131.37 L190.50,131.37 L190.74,131.37 L190.99,131.37 L191.23,131.37 L191.48,131.37 L191.72,131.37 L191.97,131.37 L192.21,131.37 L192.45,131.37 L192.70,131.37 L192.94,131.37 L193.19,131.37 L193.43,131.37 L193.68,131.37 L193.92,131.37 L194.17,131.37 L194.41,131.37 L194.66,131.37 L194.90,131.37 L195.15,131.37 L195.39,131.37 L195.64,131.37 L195.88,131.37 L196.13,131.37 L196.37,131.37 L196.62,131.37 L196.86,131.37 L197.11,131.37 L197.35,131.37 L199.80,131.37 L202.25,131.37 L204.69,131.37 L207.14,131.37 L209.59,131.37 L212.03,131.37 L214.48,131.37 L216.93,131.37 L219.38,131.37 L221.82,131.37 L224.27,131.37 L226.72,131.37 L229.17,131.37 L231.62,131.37 L234.06,131.37 L236.51,131.37 L238.96,131.37 L241.41,131.37 L243.85,131.37 L246.30,131.37 L248.75,131.37 L251.19,131.37 L253.64,131.37 L256.09,131.37 L258.54,131.37 L260.99,131.37 L263.43,131.37 L265.88,131.37 L268.33,131.37 L270.77,131.37 L273.22,131.37 L275.67,131.37 L278.12,131.37 L280.56,131.37 L283.01,131.37 L285.46,131.37 L287.91,131.37 L290.36,131.37 L292.80,131.37 L295.25,131.37 L297.70,131.37 L300.14,131.37 L302.59,131.37 L305.04,131.37 L307.49,131.37 L309.94,131.37 L312.38,131.37 L314.83,131.37 L317.28,131.37 L319.73,131.37 L322.17,131.37 L324.62,131.37 L327.07,131.37 L329.51,131.37 L331.96,131.37 L334.41,131.37 L336.86,131.37 L339.31,131.37 L341.75,131.37 L344.20,131.37 L346.65,131.37 L349.09,131.37 L351.54,131.37 L353.99,131.37 L356.44,131.37 L358.89,131.37 L361.33,131.37 L363.78,131.37 L366.23,131.37 L368.68,131.37 L371.12,131.37 L373.57,131.37 L376.02,131.37 L378.47,131.37 L380.91,131.37 L383.36,131.37 L385.81,131.37 L388.25,131.37 L390.70,131.37 L393.15,131.37 L395.60,131.37 L398.05,131.37 L400.49,131.37 L402.94,131.37 L405.39,131.37 L407.83,131.37 L410.28,131.37 L412.73,131.37 L415.18,131.37 L417.62,131.37 L420.07,131.37 L422.52,131.37 L424.97,131.37 L427.42,131.37 L429.86,131.37 L432.31,131.37 L434.76,131.37 L437.21,131.37 L439.65,131.37 L442.10,131.37 L444.55,131.37 L447.00,131.37 L449.44,131.37 L451.89,131.37 L454.34,131.37 L456.79,131.37 L459.23,131.37 L461.68,131.37 L464.13,131.37 L466.57,131.37 L469.02,131.37 L471.47,131.37 L473.92,131.37 L476.36,131.37 L478.81,131.37 L481.26,131.37 L483.71,131.37 L486.16,131.37 L488.60,131.37 L491.05,131.37 L493.50,131.37 L495.95,131.37 L498.39,131.37 L500.84,131.37 L503.29,131.37 L505.74,131.37 L508.18,131.37 L510.63,131.37 L513.08,131.37 L515.52,131.37 L517.97,131.37 L520.42,131.37 L522.87,131.37 L525.31,131.37 L527.76,131.37 L530.21,131.37 L532.66,131.37 L535.11,131.37 L537.55,131.37 L540.00,131.37" stroke="#7E2F8E" stroke-width="5"/>
<path d="M50.50,407.30 L50.74,407.24 L50.99,407.06 L51.23,406.78 L51.48,406.42 L51.72,405.99 L51.97,405.51 L52.21,405.00 L52.46,404.47 L52.70,403.85 L52.95,403.05 L53.19,402.10 L53.44,401.03 L53.68,399.86 L53.93,398.61 L54.17,397.32 L54.42,396.00 L54.66,394.61 L54.91,393.10 L55.15,391.47 L55.40,389.74 L55.64,387.90 L55.88,385.98 L56.13,383.96 L56.37,381.87 L56.62,379.66 L56.86,377.28 L57.11,374.76 L57.35,372.11 L57.60,369.36 L57.84,366.51 L58.09,363.59 L58.33,360.61 L58.58,357.59 L58.82,354.55 L59.07,351.50 L59.31,348.33 L59.56,345.01 L59.80,341.60 L60.05,338.16 L60.29,334.73 L60.53,331.36 L60.78,328.08 L61.02,324.81 L61.27,321.54 L61.51,318.29 L61.76,315.05 L62.00,311.84 L62.25,308.65 L62.49,305.50 L62.74,302.39 L62.98,299.34 L63.23,296.33 L63.47,293.37 L63.72,290.44 L63.96,287.54 L64.21,284.68 L64.45,281.85 L64.70,279.06 L64.94,276.31 L65.19,273.59 L65.43,270.92 L65.67,268.29 L65.92,265.68 L66.16,263.10 L66.41,260.55 L66.65,258.03 L66.90,255.53 L67.14,253.07 L67.39,250.64 L67.63,248.24 L67.88,245.88 L68.12,243.56 L68.37,241.27 L68.61,239.01 L68.86,236.75 L69.10,234.50 L69.35,232.27 L69.59,230.06 L69.84,227.88 L70.08,225.74 L70.32,223.64 L70.57,221.60 L70.81,219.62 L71.06,217.72 L71.30,215.89 L71.55,214.15 L71.79,212.48 L72.04,210.85 L72.28,209.26 L72.53,207.71 L72.77,206.19 L73.02,204.71 L73.26,203.27 L73.51,201.85 L73.75,200.45 L74.00,199.09 L74.24,197.74 L74.49,196.42 L74.73,195.11 L74.97,193.82 L75.22,192.55 L75.46,191.29 L75.71,190.03 L75.95,188.79 L76.20,187.55 L76.44,186.31 L76.69,185.08 L76.93,183.88 L77.18,182.69 L77.42,181.52 L77.67,180.37 L77.91,179.25 L78.16,178.15 L78.40,177.07 L78.65,176.03 L78.89,175.02 L79.14,174.03 L79.38,173.06 L79.63,172.11 L79.87,171.18 L80.11,170.28 L80.36,169.39 L80.60,168.52 L80.85,167.68 L81.09,166.85 L81.34,166.05 L81.58,165.26 L81.83,164.49 L82.07,163.74 L82.32,163.00 L82.56,162.28 L82.81,161.58 L83.05,160.89 L83.30,160.22 L83.54,159.56 L83.79,158.92 L84.03,158.30 L84.28,157.69 L84.52,157.09 L84.77,156.50 L85.01,155.93 L85.25,155.37 L85.50,154.83 L85.74,154.29 L85.99,153.77 L86.23,153.26 L86.48,152.77 L86.72,152.28 L86.97,151.81 L87.21,151.34 L87.46,150.89 L87.70,150.44 L87.95,150.01 L88.19,149.58 L88.44,149.17 L88.68,148.77 L88.93,148.37 L89.17,147.98 L89.42,147.61 L89.66,147.24 L89.90,146.88 L90.15,146.52 L90.39,146.18 L90.64,145.84 L90.88,145.51 L91.13,145.19 L91.37,144.88 L91.62,144.57 L91.86,144.27 L92.11,143.98 L92.35,143.69 L92.60,143.41 L92.84,143.14 L93.09,142.87 L93.33,142.61 L93.58,142.35 L93.82,142.10 L94.07,141.86 L94.31,141.62 L94.56,141.39 L94.80,141.16 L95.04,140.94 L95.29,140.72 L95.53,140.51 L95.78,140.30 L96.02,140.10 L96.27,139.90 L96.51,139.70 L96.76,139.51 L97.00,139.33 L97.25,139.15 L97.49,138.97 L97.74,138.80 L97.98,138.63 L98.23,138.46 L98.47,138.30 L98.72,138.15 L98.96,137.99 L99.21,137.84 L99.45,137.69 L99.69,137.55 L99.94,137.41 L100.18,137.27 L100.43,137.14 L100.67,137.01 L100.92,136.88 L101.16,136.75 L101.41,136.63 L101.65,136.51 L101.90,136.40 L102.14,136.28 L102.39,136.17 L102.63,136.06 L102.88,135.95 L103.12,135.85 L103.37,135.75 L103.61,135.65 L103.86,135.55 L104.10,135.46 L104.34,135.36 L104.59,135.27 L104.83,135.18 L105.08,135.10 L105.32,135.01 L105.57,134.93 L105.81,134.85 L106.06,134.77 L106.30,134.69 L106.55,134.62 L106.79,134.54 L107.04,134.47 L107.28,134.40 L107.53,134.33 L107.77,134.26 L108.02,134.20 L108.26,134.13 L108.51,134.07 L108.75,134.01 L109.00,133.95 L109.24,133.89 L109.48,133.83 L109.73,133.78 L109.97,133.72 L110.22,133.67 L110.46,133.62 L110.71,133.57 L110.95,133.52 L111.20,133.47 L111.44,133.42 L111.69,133.37 L111.93,133.33 L112.18,133.28 L112.42,133.24 L112.67,133.20 L112.91,133.16 L113.16,133.12 L113.40,133.08 L113.65,133.04 L113.89,133.00 L114.14,132.96 L114.38,132.93 L114.62,132.89 L114.87,132.86 L115.11,132.82 L115.36,132.79 L115.60,132.76 L115.85,132.73 L116.09,132.69 L116.34,132.66 L116.58,132.64 L116.83,132.61 L117.07,132.58 L117.32,132.55 L117.56,132.52 L117.81,132.50 L118.05,132.47 L118.30,132.45 L118.54,132.42 L118.79,132.40 L119.03,132.38 L119.27,132.35 L119.52,132.33 L119.76,132.31 L120.01,132.29 L120.25,132.27 L120.50,132.25 L120.74,132.23 L120.99,132.21 L121.23,132.19 L121.48,132.17 L121.72,132.15 L121.97,132.13 L122.21,132.12 L122.46,132.10 L122.70,132.08 L122.95,132.07 L123.19,132.05 L123.44,132.04 L123.68,132.02 L123.92,132.01 L124.17,131.99 L124.41,131.98 L124.66,131.96 L124.90,131.95 L125.15,131.94 L125.39,131.92 L125.64,131.91 L125.88,131.90 L126.13,131.89 L126.37,131.88 L126.62,131.86 L126.86,131.85 L127.11,131.84 L127.35,131.83 L127.60,131.82 L127.84,131.81 L128.09,131.80 L128.33,131.79 L128.58,131.78 L128.82,131.77 L129.06,131.76 L129.31,131.75 L129.55,131.74 L129.80,131.74 L130.04,131.73 L130.29,131.72 L130.53,131.71 L130.78,131.70 L131.02,131.70 L131.27,131.69 L131.51,131.68 L131.76,131.68 L132.00,131.67 L132.25,131.66 L132.49,131.65 L132.74,131.65 L132.98,131.64 L133.23,131.64 L133.47,131.63 L133.72,131.62 L133.96,131.62 L134.20,131.61 L134.45,131.61 L134.69,131.60 L134.94,131.60 L135.18,131.59 L135.43,131.59 L135.67,131.58 L135.92,131.58 L136.16,131.57 L136.41,131.57 L136.65,131.56 L136.90,131.56 L137.14,131.55 L137.39,131.55 L137.63,131.55 L137.88,131.54 L138.12,131.54 L138.37,131.53 L138.61,131.53 L138.85,131.53 L139.10,131.52 L139.34,131.52 L139.59,131.52 L139.83,131.51 L140.08,131.51 L140.32,131.51 L140.57,131.50 L140.81,131.50 L141.06,131.50 L141.30,131.50 L141.55,131.49 L141.79,131.49 L142.04,131.49 L142.28,131.48 L142.53,131.48 L142.77,131.48 L143.02,131.48 L143.26,131.47 L143.50,131.47 L143.75,131.47 L143.99,131.47 L144.24,131.47 L144.48,131.46 L144.73,131.46 L144.97,131.46 L145.22,131.46 L145.46,131.46 L145.71,131.45 L145.95,131.45 L146.20,131.45 L146.44,131.45 L146.69,131.45 L146.93,131.44 L147.18,131.44 L147.42,131.44 L147.67,131.44 L147.91,131.44 L148.16,131.44 L148.40,131.43 L148.64,131.43 L148.89,131.43 L149.13,131.43 L149.38,131.43 L149.62,131.43 L149.87,131.43 L150.11,131.43 L150.36,131.42 L150.60,131.42 L150.85,131.42 L151.09,131.42 L151.34,131.42 L151.58,131.42 L151.83,131.42 L152.07,131.42 L152.32,131.42 L152.56,131.41 L152.81,131.41 L153.05,131.41 L153.30,131.41 L153.54,131.41 L153.78,131.41 L154.03,131.41 L154.27,131.41 L154.52,131.41 L154.76,131.41 L155.01,131.41 L155.25,131.40 L155.50,131.40 L155.74,131.40 L155.99,131.40 L156.23,131.40 L156.48,131.40 L156.72,131.40 L156.97,131.40 L157.21,131.40 L157.46,131.40 L157.70,131.40 L157.95,131.40 L158.19,131.40 L158.43,131.40 L158.68,131.40 L158.92,131.40 L159.17,131.39 L159.41,131.39 L159.66,131.39 L159.90,131.39 L160.15,131.39 L160.39,131.39 L160.64,131.39 L160.88,131.39 L161.13,131.39 L161.37,131.39 L161.62,131.39 L161.86,131.39 L162.11,131.39 L162.35,131.39 L162.60,131.39 L162.84,131.39 L163.09,131.39 L163.33,131.39 L163.57,131.39 L163.82,131.39 L164.06,131.39 L164.31,131.39 L164.55,131.39 L164.80,131.39 L165.04,131.38 L165.29,131.38 L165.53,131.38 L165.78,131.38 L166.02,131.38 L166.27,131.38 L166.51,131.38 L166.76,131.38 L167.00,131.38 L167.25,131.38 L167.49,131.38 L167.74,131.38 L167.98,131.38 L168.22,131.38 L168.47,131.38 L168.71,131.38 L168.96,131.38 L169.20,131.38 L169.45,131.38 L169.69,131.38 L169.94,131.38 L170.18,131.38 L170.43,131.38 L170.67,131.38 L170.92,131.38 L171.16,131.38 L171.41,131.38 L171.65,131.38 L171.90,131.38 L172.14,131.38 L172.39,131.38 L172.63,131.38 L172.88,131.38 L173.12,131.38 L173.36,131.38 L173.61,131.38 L173.85,131.38 L174.10,131.38 L174.34,131.38 L174.59,131.38 L174.83,131.38 L175.08,131.38 L175.32,131.38 L175.57,131.38 L175.81,131.38 L176.06,131.38 L176.30,131.38 L176.55,131.38 L176.79,131.38 L177.04,131.38 L177.28,131.38 L177.53,131.38 L177.77,131.38 L178.01,131.38 L178.26,131.38 L178.50,131.38 L178.75,131.38 L178.99,131.38 L179.24,131.37 L179.48,131.37 L179.73,131.37 L179.97,131.37 L180.22,131.37 L180.46,131.37 L180.71,131.37 L180.95,131.37 L181.20,131.37 L181.44,131.37 L181.69,131.37 L181.93,131.37 L182.18,131.37 L182.42,131.37 L182.67,131.37 L182.91,131.37 L183.15,131.37 L183.40,131.37 L183.64,131.37 L183.89,131.37 L184.13,131.37 L184.38,131.37 L184.62,131.37 L184.87,131.37 L185.11,131.37 L185.36,131.37 L185.60,131.37 L185.85,131.37 L186.09,131.37 L186.34,131.37 L186.58,131.37 L186.83,131.37 L187.07,131.37 L187.32,131.37 L187.56,131.37 L187.80,131.37 L188.05,131.37 L188.29,131.37 L188.54,131.37 L188.78,131.37 L189.03,131.37 L189.27,131.37 L189.52,131.37 L189.76,131.37 L190.01,131.37 L190.25,131.37 L190.50,131.37 L190.74,131.37 L190.99,131.37 L191.23,131.37 L191.48,131.37 L191.72,131.37 L191.97,131.37 L192.21,131.37 L192.45,131.37 L192.70,131.37 L192.94,131.37 L193.19,131.37 L193.43,131.37 L193.68,131.37 L193.92,131.37 L194.17,131.37 L194.41,131.37 L194.66,131.37 L194.90,131.37 L195.15,131.37 L195.39,131.37 L195.64,131.37 L195.88,131.37 L196.13,131.37 L196.37,131.37 L196.62,131.37 L196.86,131.37 L197.11,131.37 L197.35,131.37 L199.80,131.37 L202.25,131.37 L204.69,131.37 L207.14,131.37 L209.59,131.37 L212.03,131.37 L214.48,131.37 L216.93,131.37 L219.38,131.37 L221.82,131.37 L224.27,131.37 L226.72,131.37 L229.17,131.37 L231.62,131.37 L234.06,131.37 L236.51,131.37 L238.96,131.37 L241.41,131.37 L243.85,131.37 L246.30,131.37 L248.75,131.37 L251.19,131.37 L253.64,131.37 L256.09,131.37 L258.54,131.37 L260.99,131.37 L263.43,131.37 L265.88,131.37 L268.33,131.37 L270.77,131.37 L273.22,131.37 L275.67,131.37 L278.12,131.37 L280.56,131.37 L283.01,131.37 L285.46,131.37 L287.91,131.37 L290.36,131.37 L292.80,131.37 L295.25,131.37 L297.70,131.37 L300.14,131.37 L302.59,131.37 L305.04,131.37 L307.49,131.37 L309.94,131.37 L312.38,131.37 L314.83,131.37 L317.28,131.37 L319.73,131.37 L322.17,131.37 L324.62,131.37 L327.07,131.37 L329.51,131.37 L331.96,131.37 L334.41,131.37 L336.86,131.37 L339.31,131.37 L341.75,131.37 L344.20,131.37 L346.65,131.37 L349.09,131.37 L351.54,131.37 L353.99,131.37 L356.44,131.37 L358.89,131.37 L361.33,131.37 L363.78,131.37 L366.23,131.37 L368.68,131.37 L371.12,131.37 L373.57,131.37 L376.02,131.37 L378.47,131.37 L380.91,131.37 L383.36,131.37 L385.81,131.37 L388.25,131.37 L390.70,131.37 L393.15,131.37 L395.60,131.37 L398.05,131.37 L400.49,131.37 L402.94,131.37 L405.39,131.37 L407.83,131.37 L410.28,131.37 L412.73,131.37 L415.18,131.37 L417.62,131.37 L420.07,131.37 L422.52,131.37 L424.97,131.37 L427.42,131.37 L429.86,131.37 L432.31,131.37 L434.76,131.37 L437.21,131.37 L439.65,131.37 L442.10,131.37 L444.55,131.37 L447.00,131.37 L449.44,131.37 L451.89,131.37 L454.34,131.37 L456.79,131.37 L459.23,131.37 L461.68,131.37 L464.13,131.37 L466.57,131.37 L469.02,131.37 L471.47,131.37 L473.92,131.37 L476.36,131.37 L478.81,131.37 L481.26,131.37 L483.71,131.37 L486.16,131.37 L488.60,131.37 L491.05,131.37 L493.50,131.37 L495.95,131.37 L498.39,131.37 L500.84,131.37 L503.29,131.37 L505.74,131.37 L508.18,131.37 L510.63,131.37 L513.08,131.37 L515.52,131.37 L517.97,131.37 L520.42,131.37 L522.87,131.37 L525.31,131.37 L527.76,131.37 L530.21,131.37 L532.66,131.37 L535.11,131.37 L537.55,131.37 L540.00,131.37" stroke="#77AC30" stroke-width="5"/>
</g>
<g font-family="'Liberation Serif', serif" font-size="14.7" fill="#262626">
<text x="50.50" y="428.2" text-anchor="middle">0</text>
<text x="99.45" y="428.2" text-anchor="middle">1</text>
<text x="148.40" y="428.2" text-anchor="middle">2</text>
<text x="197.35" y="428.2" text-anchor="middle">3</text>
<text x="246.30" y="428.2" text-anchor="middle">4</text>
<text x="295.25" y="428.2" text-anchor="middle">5</text>
<text x="344.20" y="428.2" text-anchor="middle">6</text>
<text x="393.15" y="428.2" text-anchor="middle">7</text>
<text x="442.10" y="428.2" text-anchor="middle">8</text>
<text x="491.05" y="428.2" text-anchor="middle">9</text>
<text x="540.00" y="428.2" text-anchor="middle">10</text>
<text x="44" y="412.60" text-anchor="end">0</text>
<text x="44" y="357.41" text-anchor="end">0.2</text>
<text x="44" y="302.23" text-anchor="end">0.4</text>
<text x="44" y="247.04" text-anchor="end">0.6</text>
<text x="44" y="191.86" text-anchor="end">0.8</text>
<text x="44" y="136.67" text-anchor="end">1</text>
<text x="44" y="81.49" text-anchor="end">1.2</text>
<text x="44" y="26.30" text-anchor="end">1.4</text>
</g>
<g font-family="'Liberation Serif', serif" fill="#262626">
<text x="295.4" y="14.2" text-anchor="middle" font-size="16.5" font-weight="bold" fill="#111">Step Response</text>
<text x="295.6" y="448.4" text-anchor="middle" font-size="16.5">Time [s]</text>
<text transform="translate(17.1,214.3) rotate(-90)" text-anchor="middle" font-size="16.5">Position of the ball [cm]</text>
</g>
<rect x="403.2" y="142.6" width="130.09999999999997" height="85.4" fill="#fff" stroke="#484848" stroke-width="1"/>
<g font-family="'Liberation Serif', serif" font-size="13.2" fill="#111">
<path d="M407.8,152.7 H452.8" stroke="#0072BD" stroke-width="4.4"/>
<text x="457.2" y="157.10">Reference</text>
<path d="M407.8,169.1 H452.8" stroke="#D95319" stroke-width="4.4"/>
<text x="457.2" y="173.50">CSA-TID-F</text>
<path d="M407.8,185.5 H452.8" stroke="#EDB120" stroke-width="4.4"/>
<text x="457.2" y="189.90">GWO-TID-F</text>
<path d="M407.8,201.8 H452.8" stroke="#7E2F8E" stroke-width="4.4"/>
<text x="457.2" y="206.20">GBO-TID-F</text>
<path d="M407.8,217.8 H452.8" stroke="#77AC30" stroke-width="4.4"/>
<text x="457.2" y="222.20">WOA-TID-F</text>
</g>
</svg>
</body></html>
